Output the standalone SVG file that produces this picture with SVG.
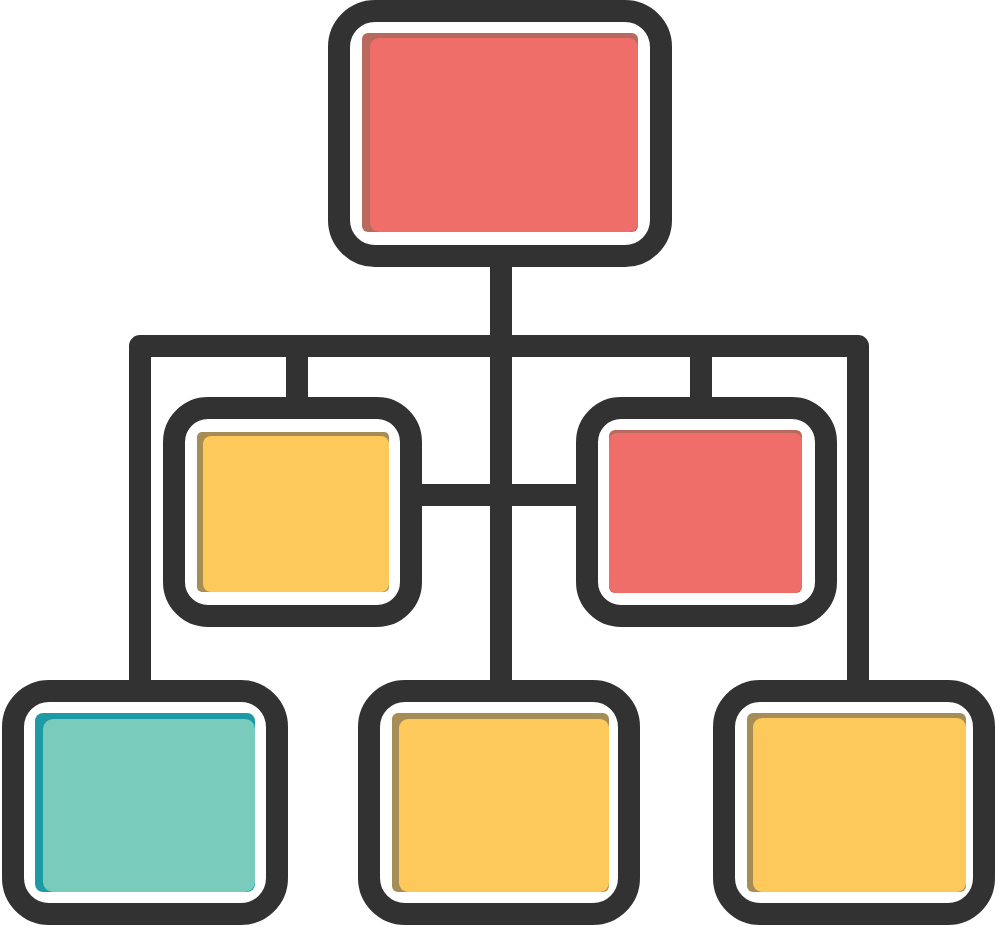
<svg xmlns="http://www.w3.org/2000/svg" width="1000" height="927" viewBox="0 0 1000 927">
<style>
.frame{fill:#ffffff;stroke:#323232;stroke-width:22}
.wire{fill:none;stroke:#323232;stroke-width:22;stroke-linejoin:round;stroke-linecap:butt}
.red{fill:#f06e6a}.redS{fill:#b9695d}
.yel{fill:#fdc95a}.yelS{fill:#a68c55}
.teal{fill:#79cbbb}.tealS{fill:#1c9ba6}
</style>
<rect width="1000" height="927" fill="#ffffff"/>
<g id="connectors">
<path class="wire" d="M140,681 V346 H858 V681"/>
<path class="wire" d="M501,266 V682"/>
<path class="wire" d="M297,346 V398"/>
<path class="wire" d="M701,346 V398"/>
<path class="wire" d="M421,495 H577"/>
</g>
<g id="node-top">
<rect class="frame" x="339" y="11" width="322" height="245" rx="36"/>
<rect class="redS" x="362" y="33" width="276" height="199" rx="6"/>
<rect class="red" x="370" y="38" width="268" height="194" rx="9"/>
</g>
<g id="node-mid-left">
<rect class="frame" x="174" y="408" width="237" height="208" rx="34"/>
<rect class="yelS" x="197" y="432" width="192" height="160" rx="5"/>
<rect class="yel" x="203" y="436" width="186" height="156" rx="8"/>
</g>
<g id="node-mid-right">
<rect class="frame" x="587" y="408" width="239" height="208" rx="34"/>
<rect class="redS" x="609" y="430" width="193" height="163" rx="6"/>
<rect class="red" x="609" y="433" width="193" height="160" rx="8"/>
</g>
<g id="node-bottom-left">
<rect class="frame" x="13" y="691" width="264" height="223" rx="36"/>
<rect class="tealS" x="35" y="713" width="220" height="179" rx="8"/>
<rect class="teal" x="43" y="719" width="212" height="173" rx="10"/>
</g>
<g id="node-bottom-mid">
<rect class="frame" x="369" y="691" width="260" height="223" rx="36"/>
<rect class="yelS" x="392" y="713" width="217" height="179" rx="6"/>
<rect class="yel" x="399" y="719" width="210" height="173" rx="9"/>
</g>
<g id="node-bottom-right">
<rect class="frame" x="724" y="691" width="260" height="223" rx="36"/>
<rect class="yelS" x="747" y="713" width="219" height="179" rx="6"/>
<rect class="yel" x="753" y="718" width="213" height="174" rx="9"/>
</g>
</svg>
